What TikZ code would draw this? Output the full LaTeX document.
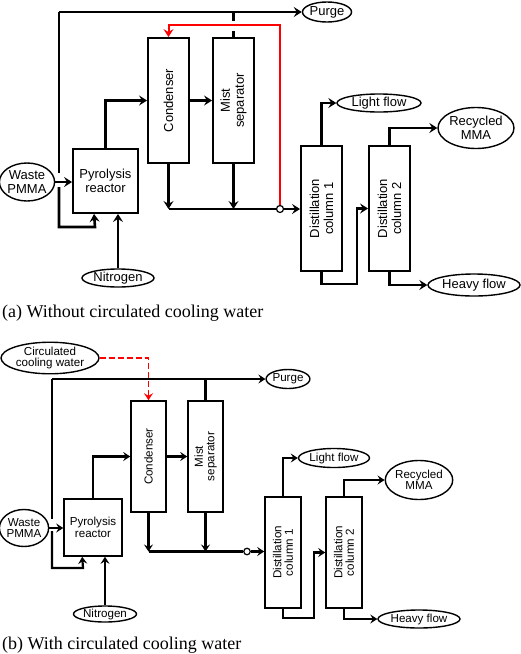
\documentclass[tikz,border=0pt]{standalone}
\usepackage{fontspec}
\setmainfont{Liberation Serif}
\newfontfamily\lsans{Liberation Sans}
\usetikzlibrary{shapes.geometric,arrows.meta,calc}
\begin{document}
\begin{tikzpicture}[x=1pt,y=-1pt,
  tf/.style={font=\lsans\fontsize{13}{14}\selectfont},
  bf/.style={font=\lsans\fontsize{11.6}{11.5}\selectfont},
  unit/.style={draw, line width=1.9pt, rectangle, inner sep=0pt},
  bunit/.style={draw, line width=1.6pt, rectangle, inner sep=0pt},
  oval/.style={draw, line width=1.4pt, ellipse, inner sep=0pt, align=center},
  lbl/.style={rotate=90, align=center, inner sep=0pt},
  flow/.style={line width=2.6pt, -{Stealth[length=8pt,width=10pt,inset=3pt]}},
  pipe/.style={line width=2.6pt},
  bflow/.style={line width=2.2pt, -{Stealth[length=7pt,width=9pt,inset=2.6pt]}},
  bpipe/.style={line width=2.2pt},
  junc/.style={circle, draw, line width=1.2pt, fill=white, inner sep=0pt},
  captxt/.style={font=\fontsize{18}{20}\selectfont, anchor=base west, inner sep=0pt}
]
\useasboundingbox (0,0) rectangle (521,654);

% ================= (a) =================
\begin{scope}[tf]
\node[unit, minimum width=41, minimum height=125] (cond) at (168.5,100.5) {};
\node[lbl] (condt) at (cond) {Condenser};
\node[unit, minimum width=41, minimum height=125] (mist) at (233.5,100.5) {};
\node[lbl] (mistt) at (mist) {Mist\\separator};
\node[unit, minimum width=65, minimum height=64, align=center] (reac) at (105.5,181) {Pyrolysis\\reactor};
\node[oval, minimum width=50, minimum height=38] (waste) at (27,182) {Waste\\PMMA};
\node[oval, minimum width=72, minimum height=18] (nitro) at (118,278) {Nitrogen};
\node[oval, minimum width=48, minimum height=20] (purge) at (327,12) {Purge};
\node[unit, minimum width=41, minimum height=125] (col1) at (321.5,208.5) {};
\node[lbl] (col1t) at (col1) {Distillation\\column 1};
\node[unit, minimum width=41, minimum height=125] (col2) at (389.5,208.5) {};
\node[lbl] (col2t) at (col2) {Distillation\\column 2};
\node[oval, minimum width=84, minimum height=18] (light) at (379,103) {Light flow};
\node[oval, minimum width=76, minimum height=41] (mma) at (476,128) {Recycled\\MMA};
\node[oval, minimum width=92, minimum height=22] (heavy) at (474,285) {Heavy flow};
\node[junc, minimum size=7] (jn) at (280,209) {};
\coordinate (tl) at (59,12);
\end{scope}

\draw[flow] (reac.north) |- (cond.west);
\draw[flow] (cond.east) -- (mist.west);
\draw[pipe] (mist.north) -- (233.5,30.5);
\draw[pipe] (233.5,20.5) -- (233.5,12);
\draw[flow] (tl) -- (purge.west);
\draw[pipe] (tl) -- (59,173);
\draw[flow] (59,187) |- (95,227) -- ($(reac.south west)+(22,0)$);
\draw[flow] (waste.east) -- (reac.west |- waste.east);
\draw[flow] (nitro.north) -- (reac.south -| nitro.north);
\draw[flow] (cond.south) -- (cond.south |- jn);
\draw[flow] (mist.south) -- (mist.south |- jn);
\draw[pipe] (cond.south |- jn) -- (jn.west);
\draw[flow] (jn.east) -- (col1.west |- jn);
\draw[red, line width=2pt, -{Stealth[length=8pt,width=10pt,inset=3pt]}] (jn.north) -- (280,25) -| (cond.north);
\draw[flow] (col1.north) |- (light.west);
\draw[flow] (col2.north) |- (mma.west);
\draw[flow] (col1.south) |- (357,284) |- (col2.west);
\draw[flow] (col2.south) |- (heavy.west);

\node[captxt] (capa) at (2,317) {(a) Without circulated cooling water};

% ================= (b) =================
\begin{scope}[bf]
\node[oval, minimum width=98, minimum height=28] (cool) at (50,358) {Circulated\\cooling water};
\node[bunit, minimum width=35, minimum height=111] (bcond) at (148.5,456.5) {};
\node[lbl] (bcondt) at (bcond) {Condenser};
\node[bunit, minimum width=35, minimum height=111] (bmist) at (205.5,456.5) {};
\node[lbl] (bmistt) at (bmist) {Mist\\separator};
\node[bunit, minimum width=58, minimum height=57, align=center] (breac) at (93,527.5) {Pyrolysis\\reactor};
\node[oval, minimum width=46, minimum height=37] (bwaste) at (24,528) {Waste\\PMMA};
\node[oval, minimum width=63, minimum height=16] (bnitro) at (105,614) {Nitrogen};
\node[oval, minimum width=43, minimum height=19] (bpurge) at (288,379) {Purge};
\node[bunit, minimum width=36, minimum height=111] (bcol1) at (283,552.5) {};
\node[lbl] (bcol1t) at (bcol1) {Distillation\\column 1};
\node[bunit, minimum width=36, minimum height=111] (bcol2) at (344,552.5) {};
\node[lbl] (bcol2t) at (bcol2) {Distillation\\column 2};
\node[oval, minimum width=71, minimum height=19] (blight) at (334,458) {Light flow};
\node[oval, minimum width=64, minimum height=39] (bmma) at (419,480) {Recycled\\MMA};
\node[oval, minimum width=82, minimum height=18] (bheavy) at (419,619) {Heavy flow};
\node[junc, minimum size=6.5] (bjn) at (247,551.5) {};
\coordinate (btl) at (52,379);
\end{scope}

\draw[red, dashed, dash pattern=on 6pt off 3pt, line width=1.9pt, -{Stealth[length=7pt,width=9pt,inset=2.6pt]}] (cool.east) -| (bcond.north);
\draw[bflow] (breac.north) |- (bcond.west);
\draw[bflow] (bcond.east) -- (bmist.west);
\draw[bpipe] (bmist.north) -- (bmist.north |- btl);
\draw[bflow] (btl) -- (bpurge.west);
\draw[bpipe] (btl) -- (52,519);
\draw[bflow] (52,531) |- (83,568) -- ($(breac.south west)+(19,0)$);
\draw[bflow] (bwaste.east) -- (breac.west |- bwaste.east);
\draw[bflow] (bnitro.north) -- (breac.south -| bnitro.north);
\draw[bflow] (bcond.south) -- (bcond.south |- bjn);
\draw[bflow] (bmist.south) -- (bmist.south |- bjn);
\draw[bpipe] (bcond.south |- bjn) -- (bjn.west);
\draw[bflow] (bjn.east) -- (bcol1.west |- bjn);
\draw[bflow] (bcol1.north) |- (blight.west);
\draw[bflow] (bcol2.north) |- (bmma.west);
\draw[bflow] (bcol1.south) |- (314,618) |- (bcol2.west);
\draw[bflow] (bcol2.south) |- (bheavy.west);

\node[captxt] (capb) at (2,649) {(b) With circulated cooling water};
\end{tikzpicture}
\end{document}
